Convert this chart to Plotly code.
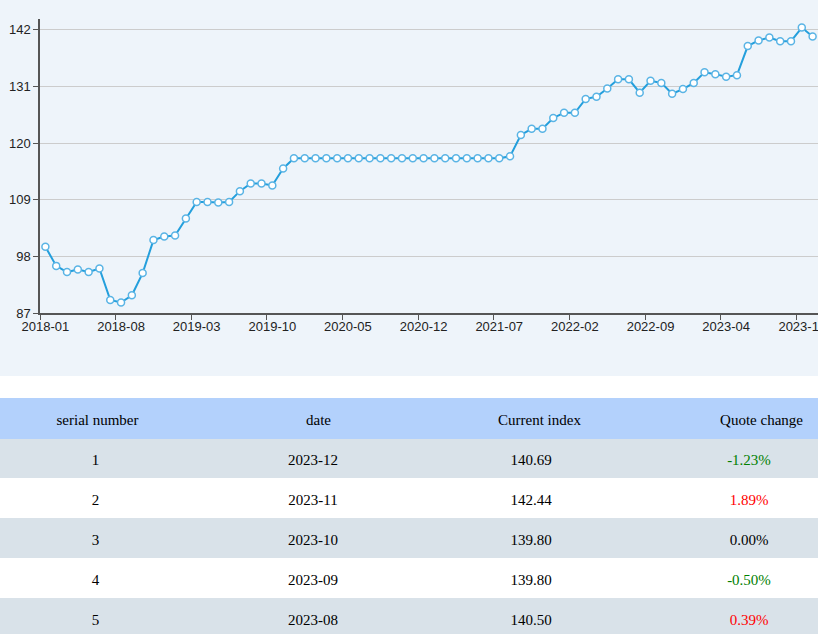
import plotly.graph_objects as go

# ---- data ----
months = [f"{y}-{m:02d}" for y in range(2018, 2024) for m in range(1, 13)]
index_values = [
    99.9, 96.2, 95.0, 95.5, 95.0, 95.7, 89.6, 89.1, 90.5, 94.8, 101.2, 101.9,
    102.1, 105.4, 108.6, 108.6, 108.5, 108.6, 110.7, 112.2, 112.2, 111.8, 115.1, 117.1,
    117.1, 117.1, 117.1, 117.1, 117.1, 117.1, 117.1, 117.1, 117.1, 117.1, 117.1, 117.1,
    117.1, 117.1, 117.1, 117.1, 117.1, 117.1, 117.1, 117.45, 121.6, 122.8, 122.8, 124.9,
    125.9, 125.9, 128.6, 129.0, 130.6, 132.4, 132.4, 129.8, 132.1, 131.7, 129.6, 130.5,
    131.7, 133.75, 133.4, 132.9, 133.2, 138.85, 139.95, 140.50, 139.80, 139.80, 142.44, 140.69,
]
y_ticks = [87, 98, 109, 120, 131, 142]

table_headers = ["serial number", "date", "Current index", "Quote change"]
serial_numbers = ["1", "2", "3", "4", "5"]
table_dates = ["2023-12", "2023-11", "2023-10", "2023-09", "2023-08"]
table_index = ["140.69", "142.44", "139.80", "139.80", "140.50"]
quote_change = ["-1.23%", "1.89%", "0.00%", "-0.50%", "0.39%"]

W = 818
H = 647          # page is taller than the 634 window; the last table row is cut like the reference
TEXT_SHIFT = 8   # centre the text vertically inside the 40px rows

def fy(px):
    """pixel from top -> paper fraction"""
    return 1 - px / H

def change_color(s):
    if s.startswith("-"):
        return "#008000"
    if s.strip("%") in ("0.00", "0"):
        return "#000000"
    return "#ff0000"

fig = go.Figure()

fig.add_trace(go.Scatter(
    x=months, y=index_values, mode="lines+markers",
    line=dict(color="#249fdc", width=2),
    marker=dict(symbol="circle", size=7, color="#ffffff",
                line=dict(color="#5ab4e5", width=1.5)),
    hoverinfo="x+y", showlegend=False,
))

row_fill = ["#d9e2e9", "#ffffff", "#d9e2e9", "#ffffff", "#d9e2e9"]
chg_colors = [change_color(s) for s in quote_change]
black = ["#000000"] * 5
serif = "Liberation Serif, Times New Roman, serif"
blank = [""] * 5
clear = "rgba(0,0,0,0)"

# header columns and body columns are laid out slightly differently (as in the original page);
# an empty spacer column keeps the last column where it belongs
head_w = [195, 247, 195, 68, 113]
body_w = [191, 244, 192, 53, 138]

# table backgrounds
fig.add_trace(go.Table(
    domain=dict(x=[0, 1], y=[0, fy(398)]),
    header=dict(values=[""] * 4, fill_color="#b3d1fc",
                line=dict(color="#b3d1fc", width=1), height=40),
    cells=dict(values=[blank] * 4, fill_color=[row_fill] * 4,
               line=dict(color=[row_fill] * 4, width=1), height=40),
    hoverinfo="skip",
))

# header text
fig.add_trace(go.Table(
    domain=dict(x=[0, 1], y=[0, fy(398 + TEXT_SHIFT)]),
    columnwidth=head_w,
    header=dict(
        values=table_headers[:3] + [""] + table_headers[3:],
        fill_color=clear, line=dict(color=clear, width=0),
        align="center",
        font=dict(family=serif, size=15, color="#000000"),
        height=40,
    ),
    cells=dict(values=[blank] * 5, fill_color=clear,
               line=dict(color=clear, width=0), height=40),
    hoverinfo="skip",
))

# body text
fig.add_trace(go.Table(
    domain=dict(x=[0, 1], y=[0, fy(398 + TEXT_SHIFT)]),
    columnwidth=body_w,
    header=dict(values=[""] * 5, fill_color=clear,
                line=dict(color=clear, width=0), height=40),
    cells=dict(
        values=[serial_numbers, table_dates, table_index, blank, quote_change],
        fill_color=clear, line=dict(color=clear, width=0),
        align="center",
        font=dict(family=serif, size=15,
                  color=[black, black, black, black, chg_colors]),
        height=40,
    ),
    hoverinfo="skip",
))

# light-blue chart background band
fig.add_shape(type="rect", xref="paper", yref="paper",
              x0=0, x1=1, y0=fy(376), y1=1,
              fillcolor="#eef4fa", line=dict(width=0), layer="below")

fig.update_layout(
    width=W, height=H,
    margin=dict(l=0, r=0, t=0, b=0, autoexpand=False),
    paper_bgcolor="#ffffff",
    plot_bgcolor="rgba(0,0,0,0)",
    font=dict(family="Liberation Sans, Arial, sans-serif", size=13, color="#222222"),
    xaxis=dict(
        domain=[40 / W, 1],
        type="category",
        range=[-0.5, len(months) - 0.5],
        tickmode="linear", tick0=0, dtick=7,
        tickson="boundaries", tickangle=0,
        ticks="outside", ticklen=5, tickcolor="#555555", tickwidth=1,
        showgrid=False, zeroline=False,
        showline=True, linecolor="#555555", linewidth=1.5,
        tickfont=dict(size=13, color="#222222"),
        automargin=False, fixedrange=True,
    ),
    yaxis=dict(
        domain=[fy(313.3), fy(19)],
        range=[87, 144.1],
        tickmode="array", tickvals=y_ticks, ticktext=[str(v) for v in y_ticks],
        ticks="outside", ticklen=5, tickcolor="#555555", tickwidth=1,
        showgrid=True, gridcolor="#cccccc", gridwidth=1,
        zeroline=False,
        showline=True, linecolor="#555555", linewidth=1.5,
        tickfont=dict(size=13, color="#222222"),
        automargin=False, fixedrange=True,
    ),
)

fig.write_html("out.html")
